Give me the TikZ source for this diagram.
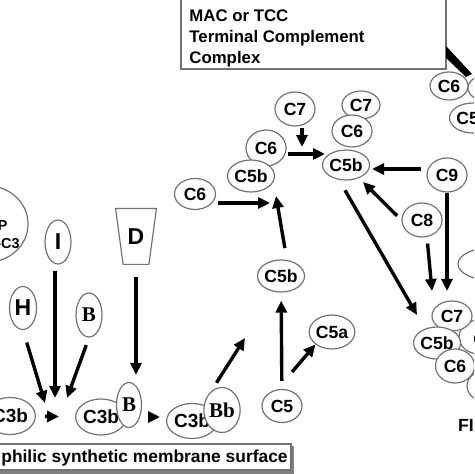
\documentclass[tikz,border=0pt]{standalone}
\usepackage{fontspec}
\setmainfont{Liberation Sans}
\newfontfamily\serifbold{Liberation Serif}
\usetikzlibrary{arrows.meta,shapes.geometric,calc}

\begin{document}
\begin{tikzpicture}
  [x=0.5pt,y=-0.5pt,
   comp/.style={draw=black!55,line width=0.6pt,ellipse,fill=white,inner sep=0pt,
     minimum width=20pt,minimum height=16.5pt,font=\bfseries\fontsize{8.8}{10}\selectfont},
   sz/.style 2 args={minimum width=#1pt,minimum height=#2pt},
   big/.style={font=\bfseries\fontsize{11.5}{12}\selectfont},
   serif/.style={font=\serifbold\bfseries\fontsize{10.5}{12}\selectfont},
   cthree/.style={font=\bfseries\fontsize{9.5}{11}\selectfont},
   arr/.style={line width=1.7pt,-{Triangle[length=6pt,width=5.5pt]}},
   boxtext/.style={font=\bfseries\fontsize{8.4}{10.5}\selectfont,align=left,inner sep=0pt}]
  \useasboundingbox (0,0) rectangle (474,474);
  \clip (0,0) rectangle (474,474);

  % top box
  \draw[black!40,line width=1.2pt] (181,1) -- (446,1);
  \draw[black!55,line width=0.6pt,fill=white] (181,-10) rectangle (446,69);
  \node[boxtext,anchor=north west] (mac) at (189,9) {MAC or TCC\\Terminal Complement\\Complex};
  \fill (446,46) -- (472,74) -- (466,77) -- (446,58) -- cycle;

  % bottom box
  \fill[black!50] (-10,446) rectangle (294,474);
  \draw[black!55,line width=0.6pt,fill=white] (-10,444) rectangle (291,470);
  \node[anchor=west,font=\bfseries\fontsize{8.7}{10}\selectfont,inner sep=0pt] (surf) at (1,458)
    {philic synthetic membrane surface};

  % left part
  \node[comp,sz={40}{38}] (bige) at (-12,224) {};
  \node[font=\bfseries\fontsize{7.2}{8}\selectfont,anchor=east,inner sep=0pt] (bigp) at (8,226) {P};
  \node[font=\bfseries\fontsize{7.2}{8}\selectfont,anchor=east,inner sep=0pt] (bigc) at (20,244) {-C3};
  \node[comp,big,sz={13}{22}] (ni) at (58,242) {I};
  \node[comp,big,sz={13.5}{21.5}] (nh) at (23,308) {H};
  \node[comp,serif,sz={13}{22}] (nb1) at (89,315) {B};
  \node[big,minimum width=20pt,minimum height=27.5pt,inner sep=0pt] (nd) at (136,236.5) {D};
  \draw[black!55,line width=0.6pt] (nd.north west) -- (nd.north east)
    -- ([xshift=-3.75pt]nd.south east) -- ([xshift=3.75pt]nd.south west) -- cycle;

  \node[comp,cthree,sz={21}{18.5}] (c3b1) at (10,416) {C3b};
  \node[comp,cthree,sz={20.5}{18}] (c3b2) at (101,417) {C3b};
  \node[comp,serif,sz={12.5}{22.5}] (nb2) at (129,405) {B};
  \node[comp,cthree,sz={21}{17.5}] (c3b3) at (192,421) {C3b};
  \node[comp,serif,sz={15}{22.5}] (nbb) at (222,410) {Bb};

  % middle part
  \node[comp] (c5) at (282,406) {C5};
  \node[comp,sz={20}{17}] (c5a) at (332,332) {C5a};
  \node[comp,sz={19}{16}] (c5bm) at (281,276) {C5b};
  \node[comp,sz={20.5}{15.5}] (c6l) at (195,194) {C6};
  \node[comp,sz={20}{18}] (c6u) at (266,148) {C6};
  \node[comp,sz={19}{16}] (c5bu) at (251,176) {C5b};
  \node[comp,sz={20}{17}] (c7u) at (295,109) {C7};
  \node[comp,sz={19}{14}] (c7r) at (361,105) {C7};
  \node[comp,sz={20}{16}] (c6r) at (352,131) {C6};
  \node[comp,sz={19}{15}] (c5br) at (346,165) {C5b};
  \node[comp,sz={20}{17}] (c9) at (447,175) {C9};
  \node[comp,sz={20}{17}] (c8) at (422,220) {C8};

  % right part
  \node[comp,sz={32}{16}] (ns) at (490,264) {};
  \node[comp,draw=none,fill=none,anchor=west] (nst) at (469,265) {S};
  \node[comp,sz={20}{17}] (cxr) at (479,337) {};
  \node[comp,draw=none,fill=none,anchor=west] (cxrt) at (459,339) {C};
  \node[comp,sz={20}{15}] (c7b) at (452,316) {C7};
  \node[comp,sz={20}{16}] (c5bb) at (437,343) {C5b};
  \node[comp,sz={23}{17}] (c9b) at (490,386) {};
  \node[comp,sz={19.5}{17}] (c6b) at (455,366) {C6};
  \node[comp,draw=none,fill=none] (fig) at (466,425) {FI};
  \node[comp,sz={22}{14}] (cxt) at (490,88) {};
  \node[comp,sz={19}{14}] (c6t) at (449,86) {C6};
  \node[comp,sz={20}{15}] (c5bt) at (473,118) {C5b};

  % free ends
  \coordinate (hx) at (45,403);
  \coordinate (ix) at (55,398);
  \coordinate (bx) at (67,398);
  \coordinate (bbx) at (245,338);
  \coordinate (c5s) at (292,372);
  \coordinate (x5) at (276,196);
  \coordinate (x6) at (270,203);
  \coordinate (x7) at (302,147);
  \coordinate (x67) at (325,154);
  \coordinate (x9) at (372,169);
  \coordinate (x8) at (363,182);
  \coordinate (xm) at (417,315);
  \coordinate (x8b) at (432,291);

  \draw[arr,shorten <=6.5pt] (nh.south) -- (hx);
  \draw[arr,shorten <=3pt] (ni.south -| ix) -- (ix);
  \draw[arr,shorten <=4pt] (nb1.south) -- (bx);
  \draw[arr,shorten <=4.5pt,shorten >=8pt] (c3b1) -- (c3b2);
  \draw[arr,shorten <=6.5pt,shorten >=3.5pt] (nd.south) -- (nd.south |- nb2.north);
  \draw[arr,shorten <=2.75pt,shorten >=3pt] (nb2.east |- c3b2) -- (c3b3.west |- c3b2);
  \draw[arr,shorten <=5pt] (nbb.120) -- (bbx);
  \draw[arr] (c5s) -- (c5a.south west);
  \draw[arr,shorten <=4pt,shorten >=4pt] (c5) -- (c5bm);
  \draw[arr,shorten <=6pt] (c5bm.70) -- (x5);
  \draw[arr,shorten <=1pt] (c6l.east |- x6) -- (x6);
  \draw[arr,shorten <=0.5pt] (c7u.south -| x7) -- (x7);
  \draw[arr,shorten <=0.5pt] (c6u.east |- x67) -- (x67);
  \draw[arr,shorten <=2.5pt] (c9.west |- x9) -- (x9);
  \draw[arr,shorten <=3pt] (c8.west) -- (x8);
  \draw[arr,shorten <=6pt] (c5br.245) -- (xm);
  \draw[arr,shorten <=3pt] ([xshift=2.5pt]c8.south) -- (x8b);
  \draw[arr] (c9.south) -- (c9.south |- x8b);
\end{tikzpicture}
\end{document}
